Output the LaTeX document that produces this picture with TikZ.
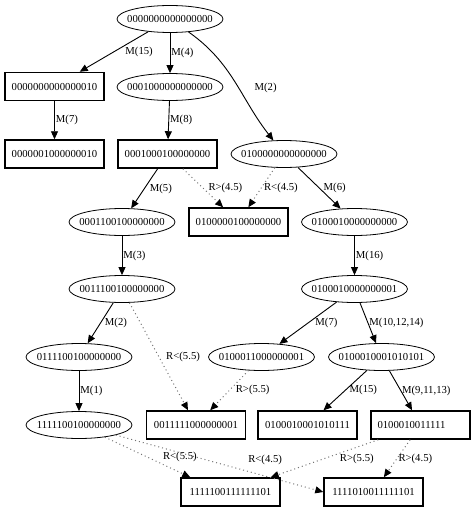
\documentclass[tikz,border=0pt]{standalone}
\usepackage{fontspec}
\setmainfont{Liberation Serif}
\usetikzlibrary{arrows.meta,shapes.geometric}
\begin{document}
\begin{tikzpicture}[x=1pt, y=-1pt,
    font=\fontsize{10.7}{12}\selectfont,
    st/.style={ellipse, draw, line width=0.8pt, inner xsep=-8pt, inner ysep=3pt, minimum width=106pt, minimum height=27pt},
    fin/.style={rectangle, draw, line width=1.5pt, inner sep=0pt, minimum width=99pt, minimum height=28pt},
    mv/.style={line width=0.9pt, -{Triangle[length=8pt,width=7pt]}},
    rl/.style={draw=black!55, line width=1pt, dash pattern=on 1pt off 3pt, -{Triangle[length=8pt,width=7pt,color=black]}},
    lbl/.style={inner sep=1pt}]
    \useasboundingbox (0,0) rectangle (474,511);

    % ノード
    \node[st]  (s0)  at (170, 19)    {0000000000000000};
    \node[fin] (a1)  at (54.5, 86.5) {0000000000000010};
    \node[st]  (b1)  at (170, 87)    {0001000000000000};
    \node[fin] (a2)  at (54.5, 154)  {0000001000000010};
    \node[fin] (b2)  at (167.5, 154) {0001000100000000};
    \node[st]  (c1)  at (284, 154)   {0100000000000000};
    \node[st]  (b3)  at (122, 222)   {0001100100000000};
    \node[fin] (d1)  at (238.5, 222) {0100000100000000};
    \node[st]  (c2)  at (354.5, 222) {0100010000000000};
    \node[st]  (b4)  at (122, 289)   {0011100100000000};
    \node[st]  (c3)  at (354.5, 289) {0100010000000001};
    \node[st]  (b5)  at (79, 357)    {0111100100000000};
    \node[st]  (c4)  at (261.5, 357) {0100011000000001};
    \node[st]  (c5)  at (381.5, 357) {0100010001010101};
    \node[st]  (b6)  at (79, 425)    {1111100100000000};
    \node[fin] (e1)  at (196, 425)   {0011111000000001};
    \node[fin] (c6)  at (307.5, 425) {0100010001010111};
    \node[fin, text width=86pt, align=left] (c7) at (420.5, 425) {0100010011111};
    \node[fin] (f1)  at (230.5, 492) {1111100111111101};
    \node[fin] (f2)  at (373.5, 492) {1111010011111101};

    % 実線の辺
    \draw[mv] (s0) -- node[lbl, midway, right=10pt] {M(15)} (a1);
    \draw[mv] (s0) -- node[lbl, midway, right] {M(4)} (b1);
    \draw[mv] (s0) to[out=-35, in=128] node[lbl, pos=0.56, right=14pt] {M(2)} (c1);
    \draw[mv] (a1) -- node[lbl, midway, right] {M(7)} (a2);
    \draw[mv] (b1) -- node[lbl, midway, right] {M(8)} (b2);
    \draw[mv] (b2) -- node[lbl, midway, right=4pt] {M(5)} (b3);
    \draw[mv] (c1) -- node[lbl, midway, right=3pt] {M(6)} (c2);
    \draw[mv] (b3) -- node[lbl, midway, right] {M(3)} (b4);
    \draw[mv] (c2) -- node[lbl, midway, right] {M(16)} (c3);
    \draw[mv] (b4) -- node[lbl, midway, right=3pt] {M(2)} (b5);
    \draw[mv] (c3) -- node[lbl, midway, right=6pt] {M(7)} (c4);
    \draw[mv] (c3) -- node[lbl, midway, right] {M(10,12,14)} (c5);
    \draw[mv] (b5) -- node[lbl, midway, right] {M(1)} (b6);
    \draw[mv] (c5) -- node[lbl, midway, right=3pt] {M(15)} (c6);
    \draw[mv] (c5) -- node[lbl, midway, right] {M(9,11,13)} (c7);

    % 点線の辺
    \draw[rl] (b2) -- node[lbl, midway, right=4pt] {R>(4.5)} (d1);
    \draw[rl] (c1) -- node[lbl, midway, right=1pt] {R<(4.5)} (d1);
    \draw[rl] (b4) -- node[lbl, midway, right=6pt] {R<(5.5)} (e1);
    \draw[rl] (c4) -- node[lbl, midway, right=5pt] {R>(5.5)} (e1);
    \draw[rl] (b6) -- node[lbl, midway, right=14pt] {R<(5.5)} ([xshift=10pt]f1.north west);
    \draw[rl] (b6) -- node[lbl, pos=0.72, above=10pt] {R<(4.5)} (f2.west);
    \draw[rl] (c7) -- node[lbl, midway, right=14pt] {R>(5.5)} ([xshift=-10pt]f1.north east);
    \draw[rl] (c7) -- node[lbl, midway, right] {R>(4.5)} (f2);

\end{tikzpicture}
\end{document}
